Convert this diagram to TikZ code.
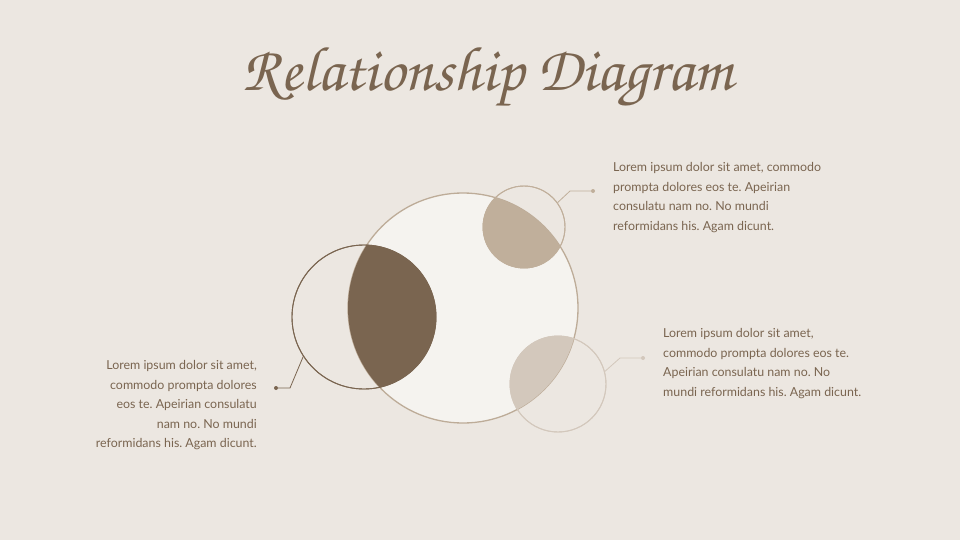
\documentclass[tikz,border=0pt]{standalone}
\usepackage[T1]{fontenc}
\usepackage{fontspec}
\setmainfont{Lato}
\usetikzlibrary{positioning}
\frenchspacing

\definecolor{paper}{HTML}{ECE7E1}
\definecolor{ink}{HTML}{7A6550}
\definecolor{cream}{HTML}{F5F3EF}
\definecolor{ringc}{HTML}{BDAC98}
\definecolor{sand}{HTML}{C0AF9B}
\definecolor{mist}{HTML}{D3C8BC}

\begin{document}
\begin{tikzpicture}[x=1pt, y=-1pt,
   ring/.style={circle, draw, inner sep=0pt},
   blurb/.style={text=ink, inner sep=0pt, font=\fontsize{12.4}{19.5}\selectfont},
   dot/.style={circle, fill, inner sep=0pt, minimum size=4pt}]
   \fill[paper] (0,0) rectangle (960,540);
   \useasboundingbox (0,0) rectangle (960,540);

   % title
   \node[text=ink, font=\usefont{T1}{pzc}{mb}{it}\fontsize{63}{63}\selectfont] (title) at (488,78) {Relationship Diagram};

   % circles
   \node[ring, draw=ringc, fill=cream, line width=1.3pt, minimum size=230pt] (c0) at (463,308) {};
   \node[ring, draw=ink, line width=0.9pt, minimum size=144pt] (c1) at (364,317) {};
   \node[ring, draw=sand, line width=0.9pt, minimum size=82pt] (c2) at (524,227) {};
   \node[ring, draw=mist, line width=0.9pt, minimum size=96pt] (c3) at (558,384) {};

   % overlaps
   \begin{scope}
      \clip (c0.center) circle[radius=115pt];
      \fill[ink] (c1.center) circle[radius=72pt];
      \fill[sand] (c2.center) circle[radius=41pt];
      \fill[mist] (c3.center) circle[radius=48pt];
   \end{scope}
   \draw[ink, line width=0.9pt] (c1.center) circle[radius=72pt];
   \draw[sand, line width=0.9pt] (c2.center) circle[radius=41pt];
   \draw[mist, line width=0.9pt] (c3.center) circle[radius=48pt];

   % texts
   \node[blurb, anchor=north west, align=left] (t2) at (613,162.5) {Lorem ipsum dolor sit amet, commodo\\prompta dolores eos te. Apeirian\\consulatu nam no. No mundi\\reformidans his. Agam dicunt.};
   \node[blurb, anchor=north west, align=left] (t3) at (663,328.5) {Lorem ipsum dolor sit amet,\\commodo prompta dolores eos te.\\Apeirian consulatu nam no. No\\mundi reformidans his. Agam dicunt.};
   \node[blurb, anchor=north east, align=right] (t1) at (257,360.5) {Lorem ipsum dolor sit amet,\\commodo prompta dolores\\eos te. Apeirian consulatu\\nam no. No mundi\\reformidans his. Agam dicunt.};

   % connectors
   \node[dot, sand] (d2) at (593,191) {};
   \node[dot, mist] (d3) at (643,358) {};
   \node[dot, ink] (d1) at (276,388) {};
   \draw[sand, line width=0.8pt] (c2.36) -- ([xshift=-23pt]d2.center) -- (d2);
   \draw[mist, line width=0.8pt] (c3.15) -- ([xshift=-23pt]d3.center) -- (d3);
   \draw[ink, line width=0.8pt] (c1.213) -- ([xshift=14pt]d1.center) -- (d1);
\end{tikzpicture}
\end{document}
